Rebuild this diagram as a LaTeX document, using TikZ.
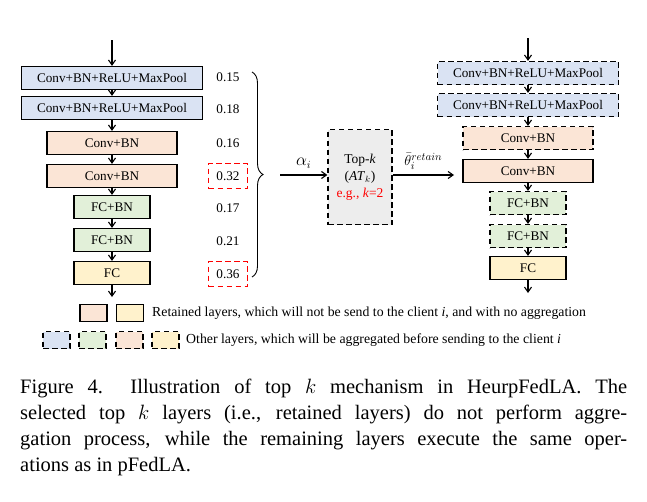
\documentclass[tikz,border=0pt]{standalone}
\usepackage{fontspec}
\setmainfont{Liberation Serif}
\usetikzlibrary{arrows.meta,decorations.pathreplacing}
\definecolor{cblue}{HTML}{DAE3F3}
\definecolor{cpeach}{HTML}{FBE5D6}
\definecolor{cgreen}{HTML}{E2F0D9}
\definecolor{cyel}{HTML}{FFF2CC}
\definecolor{cgray}{HTML}{EDEDED}
\begin{document}
\begin{tikzpicture}[x=1pt,y=-1pt,
 lay/.style={draw,line width=1.2pt,minimum height=23pt,inner sep=0pt,font=\fontsize{13.2}{14}\selectfont},
 big/.style={lay,minimum width=181pt},
 mid/.style={lay,minimum width=130pt},
 sml/.style={lay,minimum width=76pt},
 dsh/.style={dash pattern=on 5.5pt off 3.5pt},
 arr/.style={-{Straight Barb[length=5pt,width=7pt]},line width=1.1pt},
 num/.style={font=\fontsize{13.2}{14}\selectfont,text=black},
 leg/.style={draw,line width=1.1pt,minimum width=27pt,minimum height=17pt,inner sep=0pt},
 lt/.style={font=\fontsize{13.8}{15}\selectfont,anchor=west,inner sep=0pt}]
\useasboundingbox (0,0) rectangle (647,501);
% left column
\coordinate (ltop) at (112,40);
\node[big,fill=cblue] (l1) at (112,78) {Conv+BN+ReLU+MaxPool};
\node[big,fill=cblue] (l2) at (112,108) {Conv+BN+ReLU+MaxPool};
\node[mid,fill=cpeach] (l3) at (112,143) {Conv+BN};
\node[mid,fill=cpeach] (l4) at (112,176) {Conv+BN};
\node[sml,fill=cgreen] (l5) at (112,207) {FC+BN};
\node[sml,fill=cgreen] (l6) at (112,240) {FC+BN};
\node[sml,fill=cyel] (l7) at (112,273) {FC};
\coordinate (lbot) at (112,297);
\draw[arr] (ltop)--(l1); \draw[arr] (l1)--(l2); \draw[arr] (l2)--(l3); \draw[arr] (l3)--(l4);
\draw[arr] (l4)--(l5); \draw[arr] (l5)--(l6); \draw[arr] (l6)--(l7); \draw[arr] (l7)--(lbot);
% numbers
\node[num] (n1) at (228,77) {0.15};
\node[num] (n2) at (228,109) {0.18};
\node[num] (n3) at (228,143) {0.16};
\node[num,draw=red,dsh,line width=1.1pt,minimum width=39pt,minimum height=25pt] (n4) at (228,176) {0.32};
\node[num] (n5) at (228,208) {0.17};
\node[num] (n6) at (228,241) {0.21};
\node[num,draw=red,dsh,line width=1.1pt,minimum width=39pt,minimum height=25pt] (n7) at (228,274) {0.36};
\draw[decorate,decoration={brace,amplitude=11pt},line width=0.9pt] (252,72)--(252,277);
% middle
\node[draw,dsh,line width=1.2pt,fill=cgray,minimum width=64pt,minimum height=95pt,align=center,font=\fontsize{13.5}{17}\selectfont] (tk) at (360,177) {Top-\textit{k}\\(\textit{AT}$_k$)\\\textcolor{red}{e.g., \textit{k}=2}};
\coordinate (bt) at (280,175);
\draw[arr] (bt)--(tk.west|-bt) node[midway,above=3pt,font=\fontsize{16}{17}\selectfont] {$\alpha_i$};
\coordinate (rt) at (454,175);
\draw[arr] (tk.east|-rt)--(rt) node[midway,above=2pt,font=\fontsize{15}{16}\selectfont] {$\bar{\theta}_i^{retain}$};
% right column
\coordinate (rtop) at (528,38);
\node[big,fill=cblue,dsh] (r1) at (528,73) {Conv+BN+ReLU+MaxPool};
\node[big,fill=cblue,dsh] (r2) at (528,105) {Conv+BN+ReLU+MaxPool};
\node[mid,fill=cpeach,dsh] (r3) at (528,138) {Conv+BN};
\node[mid,fill=cpeach] (r4) at (528,171) {Conv+BN};
\node[sml,fill=cgreen,dsh] (r5) at (528,203) {FC+BN};
\node[sml,fill=cgreen,dsh] (r6) at (528,236) {FC+BN};
\node[sml,fill=cyel] (r7) at (528,268) {FC};
\coordinate (rbot) at (528,293);
\draw[arr] (rtop)--(r1); \draw[arr] (r1)--(r2); \draw[arr] (r2)--(r3); \draw[arr] (r3)--(r4);
\draw[arr] (r4)--(r5); \draw[arr] (r5)--(r6); \draw[arr] (r6)--(r7); \draw[arr] (r7)--(rbot);
% legend
\node[leg,fill=cpeach] (g1) at (93.5,313) {};
\node[leg,fill=cyel] (g2) at (130,313) {};
\node[lt] (t1) at (152,313) {Retained layers, which will not be send to the client \textit{i}, and with no aggregation};
\node[leg,fill=cblue,dsh] (h1) at (56.5,340) {};
\node[leg,fill=cgreen,dsh] (h2) at (92.5,340) {};
\node[leg,fill=cpeach,dsh] (h3) at (129.5,340) {};
\node[leg,fill=cyel,dsh] (h4) at (165.5,340) {};
\node[lt] (t2) at (186,340) {Other layers, which will be aggregated before sending to the client \textit{i}};
% caption
\node[anchor=north west,inner sep=0pt,text width=607pt,align=justify,font=\fontsize{20.5}{25.8}\selectfont] (cap) at (20,379)
{Figure 4.\ \ Illustration of top $k$ mechanism in HeurpFedLA. The\linebreak selected top $k$ layers (i.e., retained layers) do not perform aggre-\linebreak gation process, while the remaining layers execute the same oper-\linebreak ations as in pFedLA.};
\end{tikzpicture}
\end{document}
